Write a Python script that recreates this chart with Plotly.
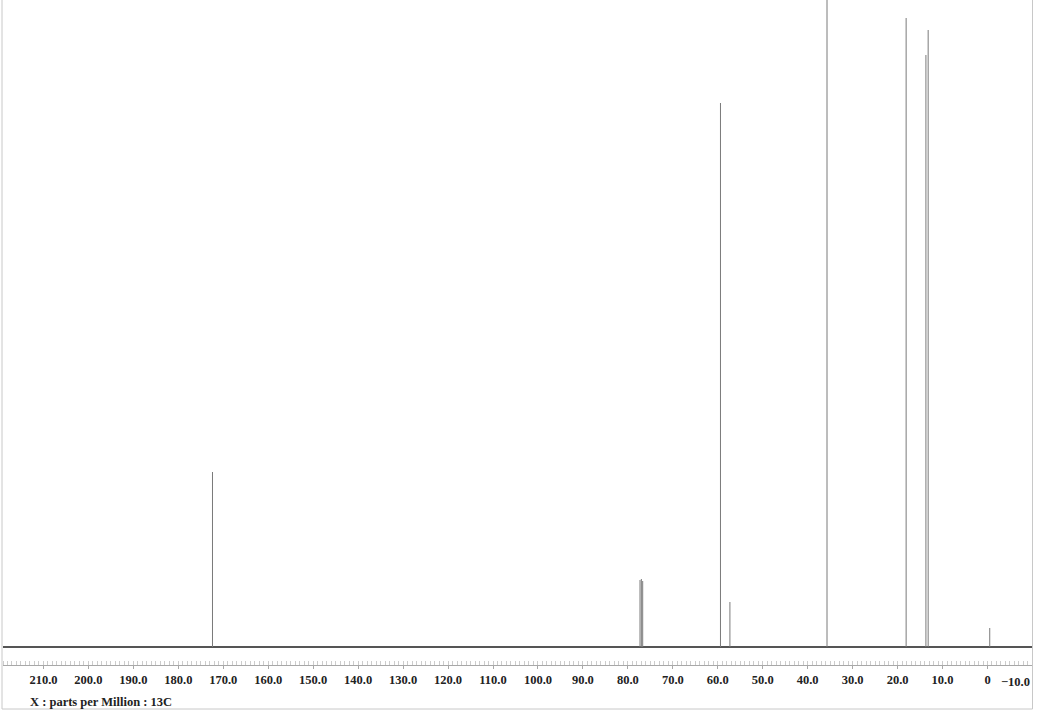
import plotly.graph_objects as go

# ---- data ----
ppm_range = [219.0, -9.9]                       # x-axis extent (ppm, reversed)
peak_ppm = [172.4, 77.3, 77.0, 76.7, 59.4, 57.3, 35.7, 18.1, 13.7, 13.2, -0.5]
peak_height = [175, 67, 68, 66, 544, 45, 760, 629, 592, 617, 19]
tick_vals = [210, 200, 190, 180, 170, 160, 150, 140, 130, 120, 110, 100, 90, 80, 70, 60, 50, 40, 30, 20, 10, 0]
tick_text = ["210.0", "200.0", "190.0", "180.0", "170.0", "160.0", "150.0", "140.0", "130.0", "120.0",
             "110.0", "100.0", "90.0", "80.0", "70.0", "60.0", "50.0", "40.0", "30.0", "20.0", "10.0", "0"]
extra_tick_label = ("−10.0", -9.9)
axis_title = "X : parts per Million : 13C"

# ---- build traces ----
px, py = [], []
for p, h in zip(peak_ppm, peak_height):
    px += [p, p, None]
    py += [0, h, None]

fig = go.Figure()
fig.add_trace(go.Scatter(x=ppm_range, y=[0, 0], mode="lines",
                         line=dict(color="#555555", width=1.8), hoverinfo="skip", showlegend=False))
fig.add_trace(go.Scatter(x=px, y=py, mode="lines",
                         line=dict(color="#7a7a7a", width=1), hoverinfo="skip", showlegend=False))

W, H = 1039, 723
L, R, T, B = 3, 7, 0, 58
pw, ph = W - L - R, H - T - B

serif = "Liberation Serif, Times New Roman, serif"
frame = dict(color="#c8c8c8", width=1)
fx0, fx1, fy0 = (2 - L) / pw, (1032.5 - L) / pw, -(709 - 665) / ph
fig.update_layout(
    width=W, height=H,
    margin=dict(l=L, r=R, t=T, b=B, pad=0),
    paper_bgcolor="white", plot_bgcolor="white",
    showlegend=False,
    xaxis=dict(range=ppm_range, showgrid=False, zeroline=False,
               showline=True, linecolor="#a8a8a8", linewidth=1,
               tickvals=tick_vals, ticktext=tick_text,
               ticks="outside", ticklen=3, tickcolor="#a8a8a8", tickwidth=1,
               tickfont=dict(family=serif, size=12.5, color="#222", weight="bold"),
               minor=dict(dtick=1, ticks="inside", ticklen=4, tickcolor="#cccccc", tickwidth=1, showgrid=False)),
    yaxis=dict(range=[-18, 647], visible=False, showgrid=False, zeroline=False),
    annotations=[
        dict(text=extra_tick_label[0], x=extra_tick_label[1], xref="x", xanchor="right",
             y=-(682 - 665) / ph, yref="paper", yanchor="middle", showarrow=False,
             font=dict(family=serif, size=12.5, color="#222", weight="bold")),
        dict(text=axis_title, x=(28 - L) / pw, xref="paper", xanchor="left",
             y=-(702 - 665) / ph, yref="paper", yanchor="middle", showarrow=False,
             font=dict(family=serif, size=12.5, color="#222", weight="bold")),
    ],
    shapes=[
        dict(type="line", xref="paper", yref="paper", x0=fx0, x1=fx0, y0=fy0, y1=1.0, line=frame, layer="below"),
        dict(type="line", xref="paper", yref="paper", x0=fx1, x1=fx1, y0=fy0, y1=1.0, line=frame, layer="below"),
        dict(type="line", xref="paper", yref="paper", x0=fx0, x1=fx1, y0=fy0, y1=fy0, line=frame, layer="below"),
    ],
)

fig.write_html("out.html", config={"displayModeBar": False},
               post_script="document.body.style.margin='0';document.body.style.padding='0';")
